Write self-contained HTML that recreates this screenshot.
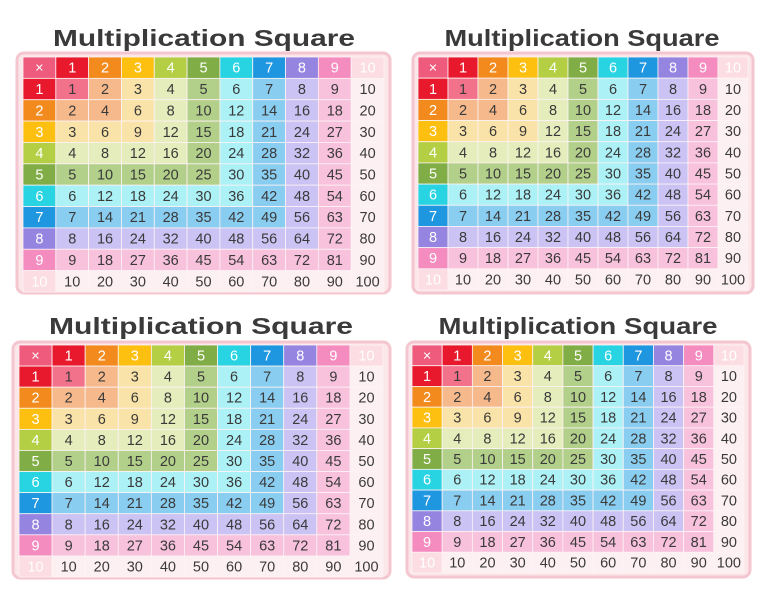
<!DOCTYPE html>
<html><head><meta charset="utf-8"><style>
html,body{margin:0;padding:0;background:#fff;width:768px;height:594px;overflow:hidden}
svg{position:absolute;left:0;top:0}
</style></head><body>
<svg id="chart" width="768" height="594"></svg>
<script>
const rowFactors=[1,2,3,4,5,6,7,8,9,10];
const colFactors=[1,2,3,4,5,6,7,8,9,10];
const headerColors=['#ef5b7c','#e8192c','#f28a1e','#fdbf10','#b5cf45','#80ad45','#28d3e2','#1f97e0','#9584e0','#f58cc0','#fbdde3'];
const cellColors=['#ef5b7c','#f2718b','#f5b98b','#fae3a8','#e4edbb','#b3d08a','#abf1f6','#89cdf0','#cac3f4','#f8c1dc','#fdf0f3'];
const panels=[
 {bx:17,by:53,bw:373,bh:240,gx:23,gy:57,gw:361,gh:235,tx:204,ty:38,tw:302},
 {bx:413,by:53,bw:340,bh:240,gx:418,gy:57,gw:330,gh:233,tx:582,ty:38,tw:275},
 {bx:13,by:342,bw:377,bh:236,gx:19,gy:345,gw:364,gh:232,tx:201,ty:326,tw:304},
 {bx:407,by:342,bw:343,bh:235,gx:412,gy:345,gw:332,gh:228,tx:578,ty:326,tw:279}
];
const NS='http://www.w3.org/2000/svg';
const svg=document.getElementById('chart');
function mk(tag,attrs,parent){const e=document.createElementNS(NS,tag);for(const k in attrs)e.setAttribute(k,attrs[k]);parent.appendChild(e);return e;}
panels.forEach((p,pi)=>{
 const g=mk('g',{},svg);
 
 
 const t=mk('text',{x:p.tx,y:p.ty+8,'text-anchor':'middle','font-family':'Liberation Sans, sans-serif','font-weight':'bold','font-size':'23',fill:'#3a3a3a',textLength:p.tw,lengthAdjust:'spacingAndGlyphs'},g);
 t.textContent='Multiplication Square';
 
 
 const b=mk('rect',{x:p.bx,y:p.by,width:p.bw,height:p.bh,rx:7,fill:'#fbe6ea',stroke:'#f4c6cf','stroke-width':3},g);
 
 
 const n=colFactors.length+1, cw=p.gw/n, ch=p.gh/(rowFactors.length+1);
 for(let r=0;r<=rowFactors.length;r++){
  for(let c=0;c<=colFactors.length;c++){
   let fill,label,tc='#3a3a3a',header=false;
   if(r===0&&c===0){fill=headerColors[0];label='×';tc='#fff';header=true;}
   else if(r===0){fill=headerColors[colFactors[c-1]];label=String(colFactors[c-1]);tc='#fff';header=true;}
   else if(c===0){fill=headerColors[rowFactors[r-1]];label=String(rowFactors[r-1]);tc='#fff';header=true;}
   else{const m=Math.max(rowFactors[r-1],colFactors[c-1]);fill=cellColors[m];label=String(rowFactors[r-1]*colFactors[c-1]);}
   if(label==='10'&&header)tc='#fff';
   const x=p.gx+c*cw,y=p.gy+r*ch;
   const rc=mk('rect',{x:x,y:y,width:cw,height:ch,fill:fill,stroke:'#fdf3f5','stroke-width':0.8},g);
   
   
   const tx=mk('text',{x:x+cw/2,y:y+ch/2+5,'text-anchor':'middle','font-family':'Liberation Sans, sans-serif','font-size':'14.5',fill:tc},g);
   tx.textContent=label;
   
   
  }
 }
});
</script>
</body></html>
